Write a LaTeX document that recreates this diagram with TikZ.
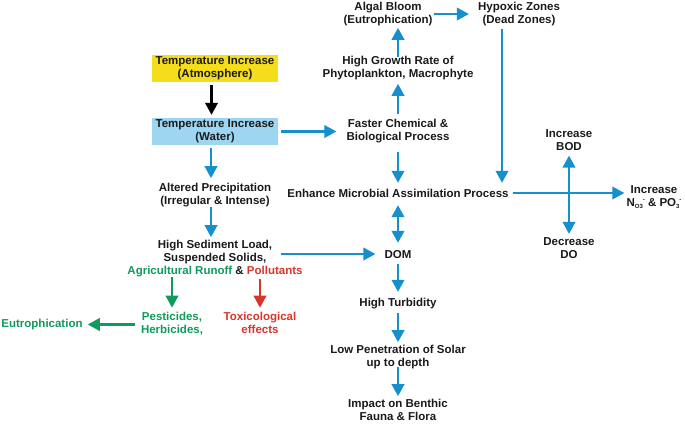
\documentclass[tikz,border=0pt]{standalone}
\usepackage{fontspec}
\setmainfont{Liberation Sans}
\usetikzlibrary{arrows.meta,calc}
\definecolor{arrblue}{HTML}{1690CC}
\definecolor{boxblue}{HTML}{9ED6F1}
\definecolor{boxyellow}{HTML}{F5DD1C}
\definecolor{agrgreen}{HTML}{119A5B}
\definecolor{polred}{HTML}{D9352B}
\definecolor{txt}{HTML}{1A1A1A}
\newcommand{\mysub}[1]{\raisebox{-2pt}{\fontsize{6}{6}\selectfont #1}}
\newcommand{\mysup}[1]{\raisebox{5pt}{\fontsize{6}{6}\selectfont #1}}
\begin{document}
\begin{tikzpicture}[x=1pt,y=-1pt,
  lbl/.style={align=center,inner sep=0pt,font=\fontsize{11.5}{13}\selectfont\bfseries,text=txt,
    execute at begin node=\strut,execute at end node=\strut},
  tbox/.style={lbl,minimum width=126pt,minimum height=27pt},
  tipp/.tip={Triangle[length=12pt,width=12.5pt]},
  arr/.style={draw=arrblue,line width=2.2pt,-tipp},
  darr/.style={draw=arrblue,line width=2.2pt,tipp-tipp},
  karr/.style={draw=black,line width=2.2pt,-tipp},
  garr/.style={draw=agrgreen,line width=2.2pt,-tipp},
  rarr/.style={draw=polred,line width=2.2pt,-tipp}]
\useasboundingbox (0,0) rectangle (685,424);
% nodes
\node[lbl] (alg) at (388,15) {Algal Bloom\\(Eutrophication)};
\node[lbl] (hyp) at (519,15) {Hypoxic Zones\\(Dead Zones)};
\node[lbl] (grow) at (398,69) {High Growth Rate of\\Phytoplankton, Macrophyte};
\node[lbl] (fast) at (398,132) {Faster Chemical \&\\Biological Process};
\node[tbox,fill=boxyellow] (atm) at (215,68.5) {Temperature Increase\\(Atmosphere)};
\node[tbox,fill=boxblue] (wat) at (215,131.5) {Temperature Increase\\(Water)};
\node[lbl] (alt) at (215,196) {Altered Precipitation\\(Irregular \& Intense)};
\node[lbl] (enh) at (398,194.5) {Enhance Microbial Assimilation Process};
\node[lbl] (inc) at (654,197.5) {Increase\\N\mysub{O3}\mysup{-} \& PO\mysub{3}\mysup{-}};
\node[lbl] (bod) at (569,142) {Increase\\BOD};
\node[lbl] (do) at (569,249.5) {Decrease\\DO};
\node[lbl] (sed) at (215,259.5) {High Sediment Load,\\Suspended Solids,\\{\color{agrgreen}Agricultural Runoff} \& {\color{polred}Pollutants}};
\node[lbl] (dom) at (398,255.5) {DOM};
\node[lbl] (turb) at (398,303.5) {High Turbidity};
\node[lbl] (low) at (398,357.5) {Low Penetration of Solar\\up to depth};
\node[lbl] (imp) at (398,412) {Impact on Benthic\\Fauna \& Flora};
\node[lbl,text=agrgreen] (pest) at (172,325) {Pesticides,\\Herbicides,};
\node[lbl,text=polred] (tox) at (260,325) {Toxicological\\effects};
\node[lbl,text=agrgreen] (eut) at (42,324.5) {Eutrophication};
% connectors
\draw[karr] ([xshift=-3.5pt,yshift=-3pt]atm.south) -- ([xshift=-3.5pt,yshift=3pt]wat.north);
\draw[arr] ([xshift=3pt]wat.east) -- ([xshift=-10pt]wat.east -| fast.west);
\draw[arr] ([xshift=-4pt,yshift=-3pt]wat.south) -- ([xshift=-4pt,yshift=5pt]alt.north);
\draw[arr] ([xshift=-4pt,yshift=2pt]alt.south) -- ([xshift=-4pt,yshift=3pt]sed.north);
\draw[arr] ([xshift=66pt,yshift=5.5pt]sed.center) -- ([xshift=-9pt,yshift=1.5pt]dom.west);
\draw[arr] ([yshift=5pt]fast.north) -- ([yshift=-2pt]grow.south);
\draw[arr] ([yshift=-1pt]grow.north) -- (grow.north |- alg.south);
\draw[arr] ([xshift=1pt,yshift=1pt]alg.east) -- ([xshift=-9pt,yshift=1pt]alg.east -| hyp.west);
\draw[arr] ([yshift=-7pt]fast.south) -- ([yshift=5pt]enh.north);
\coordinate (hx) at ([xshift=-17pt,yshift=-1pt]hyp.south);
\draw[arr] (hx) -- ([yshift=5pt]hx |- enh.north);
\draw[arr] ([xshift=4pt,yshift=1.5pt]enh.east) -- ([xshift=-2pt,yshift=1.5pt]enh.east -| inc.west);
\draw[darr] ([yshift=-1pt]bod.south) -- ([yshift=3pt]do.north);
\draw[darr] ([yshift=-4pt]enh.south) -- ([yshift=6pt]dom.north);
\draw[arr] ([yshift=-2pt]dom.south) -- ([yshift=5pt]turb.north);
\draw[arr] ([yshift=-3pt]turb.south) -- ([yshift=2.5pt]low.north);
\draw[arr] ([yshift=3.5pt]low.south) -- ([yshift=3pt]imp.north);
\draw[garr] ([yshift=1.5pt]pest.north |- sed.south) -- ([yshift=4.5pt]pest.north);
\draw[rarr] ([yshift=-0.5pt]tox.north |- sed.south) -- ([yshift=4.5pt]tox.north);
\draw[garr] ([xshift=-6pt,yshift=0.5pt]pest.west) -- ([xshift=5pt]eut.east);
\end{tikzpicture}
\end{document}
